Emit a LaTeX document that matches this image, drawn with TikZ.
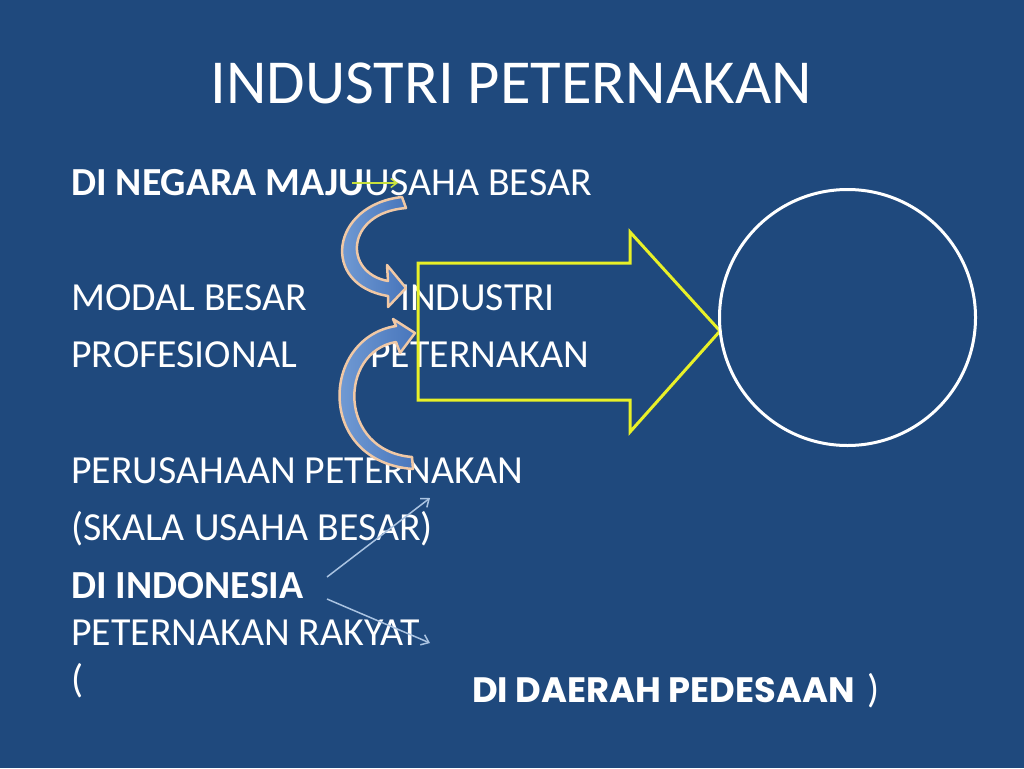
\documentclass[tikz,border=0pt]{standalone}
\usepackage{fontspec}
\setmainfont{Carlito}
\newfontfamily\decofont{Poppins}
\usetikzlibrary{arrows.meta}
\definecolor{slideblue}{RGB}{31,73,125}
\definecolor{arrowyellow}{RGB}{232,240,40}
\definecolor{smallyellow}{RGB}{200,225,60}
\definecolor{thinblue}{RGB}{170,195,225}
\definecolor{peach}{RGB}{240,200,165}
\definecolor{curvelight}{RGB}{125,165,218}
\definecolor{curvedark}{RGB}{72,118,188}
\begin{document}
\begin{tikzpicture}[x=1pt,y=-1pt,
  txt/.style={anchor=base west,text=white,font=\fontsize{39.8}{48}\selectfont},
  curvearrow/.style={left color=curvelight,right color=curvedark,draw=peach,line width=2.5pt,line join=round},
  thinarrow/.style={draw=thinblue,line width=1.5pt,-{Straight Barb[length=7pt,width=11pt]}}]
\tikzstyle{every node}+=[inner sep=0pt]
\fill [slideblue] (0,0) rectangle (1024,768);
\node [anchor=base,text=white,font=\fontsize{62.6}{75}\selectfont] (title) at (511,103) {INDUSTRI PETERNAKAN};
\node [txt] (maju) at (71,195) {\textbf{DI NEGARA MAJU}};
\node [txt] (usaha) at (maju.base east) {USAHA BESAR};
\node [txt] (modal) at (71,310) {MODAL BESAR};
\node [txt] (industri) at (400,310) {INDUSTRI};
\node [txt] (prof) at (71,367) {PROFESIONAL};
\node [txt] (peter) at (370,367) {PETERNAKAN};
\node [txt] (perus) at (71,483) {PERUSAHAAN PETERNAKAN};
\node [txt] (skala) at (71,540) {(SKALA USAHA BESAR)};
\node [txt] (indo) at (71,598) {\textbf{DI INDONESIA}};
\node [txt] (rakyat) at (71,645) {PETERNAKAN RAKYAT};
\node [txt] (open) at (71,692) {(};
\node [txt,font=\decofont\bfseries\fontsize{35.3}{42}\selectfont] (desa) at (472,702) {DI DAERAH PEDESAAN};
\node [txt] (close) at ([xshift=12pt]desa.base east) {)};
\draw [arrowyellow,line width=3pt,line join=miter] (418,263) -- (630,263) -- (630,232) -- (720,331) -- (630,432) -- (630,400) -- (418,400) -- cycle;
\node [draw=white,line width=3pt,circle,minimum size=256pt] (ring) at (847.5,317.5) {};
\shade [curvearrow] (402,197) .. controls (330,205) and (320,285) .. (388,296) -- (388,307) -- (406,288) -- (387,265) -- (388,281) .. controls (343,273) and (345,213) .. (406,208) -- cycle;
\shade [curvearrow] (396,326) .. controls (320,338) and (316,462) .. (413,469) -- (412,457) .. controls (338,451) and (338,352) .. (396,342) -- (400,353) -- (415,333) -- (393,319) -- cycle;
\coordinate (yfrom) at (352,183);
\coordinate (yto) at (398,183);
\draw [smallyellow,line width=1.5pt,-{Straight Barb[length=6pt,width=9pt]}] (yfrom) -- (yto);
\coordinate (upfrom) at (327,577);
\coordinate (upto) at (430,498);
\coordinate (downfrom) at (327,599);
\coordinate (downto) at (430,643);
\draw [thinarrow] (upfrom) -- (upto);
\draw [thinarrow] (downfrom) -- (downto);
\end{tikzpicture}
\end{document}
